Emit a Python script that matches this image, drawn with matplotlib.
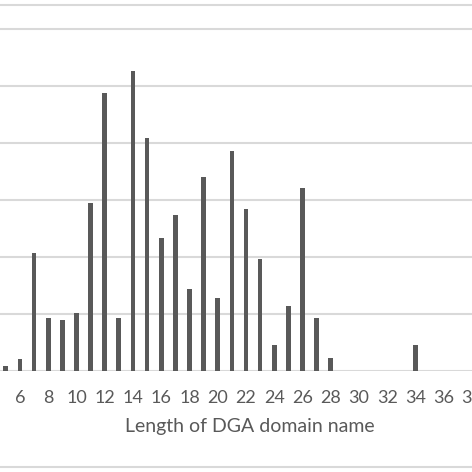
import matplotlib
matplotlib.use("Agg")
import matplotlib.pyplot as plt
from matplotlib.lines import Line2D

lengths = [5, 6, 7, 8, 9, 10, 11, 12, 13, 14, 15, 16, 17, 18, 19, 20, 21, 22, 23, 24, 25, 26, 27, 28, 34]
counts = [0.09, 0.21, 2.07, 0.93, 0.89, 1.02, 2.95, 4.88, 0.93, 5.26, 4.09, 2.33, 2.74, 1.44, 3.40,
          1.28, 3.86, 2.84, 1.96, 0.46, 1.14, 3.21, 0.93, 0.23, 0.46]
tick_values = list(range(6, 40, 2))
x_label = "Length of DGA domain name"

fig = plt.figure(figsize=(4.72, 4.72), dpi=100)
ax = fig.add_axes([0, 0.214, 1, 0.786])
ax.bar(lengths, counts, width=0.33, color="#595959", zorder=3)
ax.set_xlim(4.59, 37.83)
ax.set_ylim(0, 6.51)
ax.set_yticks(range(1, 7))
ax.yaxis.grid(True, color="#d9d9d9", linewidth=1.5, zorder=0)
ax.axhline(0, color="#d9d9d9", linewidth=1.5, zorder=2)
for s in ax.spines.values():
    s.set_visible(False)
ax.tick_params(axis="y", left=False, labelleft=False)
ax.set_xticks(tick_values)
ax.set_xticklabels([str(v) for v in tick_values], fontsize=13, color="#595959", family="Lato")
ax.tick_params(axis="x", length=0, pad=14)
ax.set_xlabel(x_label, fontsize=14, color="#595959", family="Lato")
ax.xaxis.set_label_coords(250 / 472, -(427 - 371) / (0.786 * 472), transform=ax.transAxes)
ax.xaxis.label.set_verticalalignment("center")

fig.add_artist(Line2D([0, 1], [1 - 5 / 472, 1 - 5 / 472], color="#d9d9d9", linewidth=1.5, transform=fig.transFigure))
fig.add_artist(Line2D([0, 1], [1 - 467 / 472, 1 - 467 / 472], color="#d9d9d9", linewidth=1.5, transform=fig.transFigure))

fig.savefig("out.png", dpi=100, facecolor="white")
